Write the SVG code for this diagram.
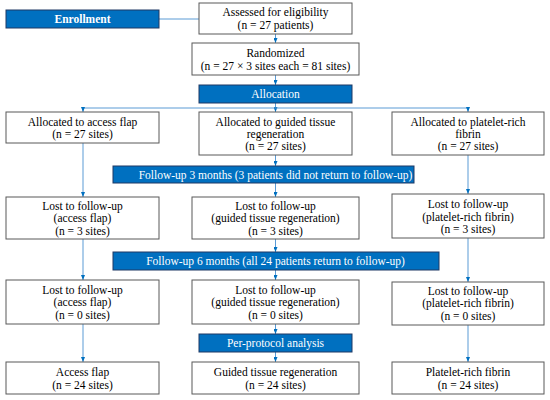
<svg xmlns="http://www.w3.org/2000/svg" width="550" height="400" viewBox="0 0 550 400">
<style>
.box{fill:#fff;stroke:#595959;stroke-width:1}
.hdr{fill:#0070C0;stroke:#1F3864;stroke-width:1}
.t{font-family:"Liberation Serif",serif;font-size:11.5px;fill:#000;text-anchor:middle}
.w{font-family:"Liberation Serif",serif;font-size:11.5px;fill:#fff;text-anchor:middle}
.c{stroke:#5B9BD5;stroke-width:1;fill:none}
.a{stroke:#5B9BD5;stroke-width:1;fill:none;marker-end:url(#ah)}
</style>
<defs>
<marker id="ah" markerWidth="5" markerHeight="4" refX="5" refY="2" orient="auto" markerUnits="userSpaceOnUse">
<path d="M0,0 L5,2 L0,4 Z" fill="#0070C0"/>
</marker>
</defs>
<rect width="550" height="400" fill="#fff"/>
<g id="connectors">
<path class="c" d="M159,19 H199"/>
<path class="a" d="M275.5,34 V43"/>
<path class="a" d="M275.5,75 V85"/>
<path class="a" d="M275.5,103 V112"/>
<path class="c" d="M83,108 H468"/>
<path class="a" d="M83,108 V112"/>
<path class="a" d="M468,108 V112"/>
<path class="a" d="M83,143 V197"/>
<path class="a" d="M275.5,155 V166"/>
<path class="a" d="M275.5,183 V197"/>
<path class="a" d="M468,155 V194"/>
<path class="a" d="M83,239 V280"/>
<path class="a" d="M275.5,239 V252"/>
<path class="a" d="M275.5,270 V280"/>
<path class="a" d="M468,238 V282"/>
<path class="a" d="M83,324 V362"/>
<path class="a" d="M275.5,324 V334"/>
<path class="a" d="M275.5,352 V362"/>
<path class="a" d="M468,325 V362"/>
</g>
<g id="enrollment"><rect class="hdr" x="6" y="10" width="153" height="18"/><text class="w" font-family="Liberation Serif" x="82.5" y="23" font-weight="bold">Enrollment</text></g>
<g id="assessed"><rect class="box" x="199" y="3" width="153" height="31"/><text class="t" font-family="Liberation Serif" x="275.5" y="16">Assessed for eligibility</text><text class="t" font-family="Liberation Serif" x="275.5" y="29">(n = 27 patients)</text></g>
<g id="randomized"><rect class="box" x="192" y="43" width="167" height="32"/><text class="t" font-family="Liberation Serif" x="275.5" y="57">Randomized</text><text class="t" font-family="Liberation Serif" x="275.5" y="70">(n = 27 × 3 sites each = 81 sites)</text></g>
<g id="allocation"><rect class="hdr" x="199" y="85" width="153" height="18"/><text class="w" font-family="Liberation Serif" x="275.5" y="98">Allocation</text></g>
<g id="alloc-af"><rect class="box" x="6" y="112" width="153" height="31"/><text class="t" font-family="Liberation Serif" x="82.5" y="126">Allocated to access flap</text><text class="t" font-family="Liberation Serif" x="82.5" y="138">(n = 27 sites)</text></g>
<g id="alloc-gtr"><rect class="box" x="199" y="112" width="153" height="43"/><text class="t" font-family="Liberation Serif" x="275.5" y="126">Allocated to guided tissue</text><text class="t" font-family="Liberation Serif" x="275.5" y="138">regeneration</text><text class="t" font-family="Liberation Serif" x="275.5" y="150">(n = 27 sites)</text></g>
<g id="alloc-prf"><rect class="box" x="392" y="112" width="152" height="43"/><text class="t" font-family="Liberation Serif" x="468" y="126">Allocated to platelet-rich</text><text class="t" font-family="Liberation Serif" x="468" y="138">fibrin</text><text class="t" font-family="Liberation Serif" x="468" y="150">(n = 27 sites)</text></g>
<g id="fu3"><rect class="hdr" x="113" y="166" width="301" height="17"/><text class="w" font-family="Liberation Serif" x="275.5" y="179">Follow-up 3 months (3 patients did not return to follow-up)</text></g>
<g id="lost3-af"><rect class="box" x="6" y="197" width="153" height="42"/><text class="t" font-family="Liberation Serif" x="82.5" y="210">Lost to follow-up</text><text class="t" font-family="Liberation Serif" x="82.5" y="222">(access flap)</text><text class="t" font-family="Liberation Serif" x="82.5" y="235">(n = 3 sites)</text></g>
<g id="lost3-gtr"><rect class="box" x="192" y="197" width="167" height="42"/><text class="t" font-family="Liberation Serif" x="275.5" y="210">Lost to follow-up</text><text class="t" font-family="Liberation Serif" x="275.5" y="222">(guided tissue regeneration)</text><text class="t" font-family="Liberation Serif" x="275.5" y="235">(n = 3 sites)</text></g>
<g id="lost3-prf"><rect class="box" x="392" y="194" width="152" height="44"/><text class="t" font-family="Liberation Serif" x="468" y="208">Lost to follow-up</text><text class="t" font-family="Liberation Serif" x="468" y="221">(platelet-rich fibrin)</text><text class="t" font-family="Liberation Serif" x="468" y="233">(n = 3 sites)</text></g>
<g id="fu6"><rect class="hdr" x="113" y="252" width="326" height="18"/><text class="w" font-family="Liberation Serif" x="275.5" y="265">Follow-up 6 months (all 24 patients return to follow-up)</text></g>
<g id="lost6-af"><rect class="box" x="6" y="280" width="153" height="44"/><text class="t" font-family="Liberation Serif" x="82.5" y="294">Lost to follow-up</text><text class="t" font-family="Liberation Serif" x="82.5" y="306">(access flap)</text><text class="t" font-family="Liberation Serif" x="82.5" y="319">(n = 0 sites)</text></g>
<g id="lost6-gtr"><rect class="box" x="192" y="280" width="167" height="44"/><text class="t" font-family="Liberation Serif" x="275.5" y="294">Lost to follow-up</text><text class="t" font-family="Liberation Serif" x="275.5" y="306">(guided tissue regeneration)</text><text class="t" font-family="Liberation Serif" x="275.5" y="319">(n = 0 sites)</text></g>
<g id="lost6-prf"><rect class="box" x="392" y="282" width="152" height="43"/><text class="t" font-family="Liberation Serif" x="468" y="295">Lost to follow-up</text><text class="t" font-family="Liberation Serif" x="468" y="307">(platelet-rich fibrin)</text><text class="t" font-family="Liberation Serif" x="468" y="320">(n = 0 sites)</text></g>
<g id="ppa"><rect class="hdr" x="199" y="334" width="153" height="18"/><text class="w" font-family="Liberation Serif" x="275.5" y="347">Per-protocol analysis</text></g>
<g id="final-af"><rect class="box" x="6" y="362" width="153" height="32"/><text class="t" font-family="Liberation Serif" x="82.5" y="376">Access flap</text><text class="t" font-family="Liberation Serif" x="82.5" y="389">(n = 24 sites)</text></g>
<g id="final-gtr"><rect class="box" x="192" y="362" width="167" height="32"/><text class="t" font-family="Liberation Serif" x="275.5" y="376">Guided tissue regeneration</text><text class="t" font-family="Liberation Serif" x="275.5" y="389">(n = 24 sites)</text></g>
<g id="final-prf"><rect class="box" x="392" y="362" width="152" height="32"/><text class="t" font-family="Liberation Serif" x="468" y="376">Platelet-rich fibrin</text><text class="t" font-family="Liberation Serif" x="468" y="389">(n = 24 sites)</text></g>
</svg>
